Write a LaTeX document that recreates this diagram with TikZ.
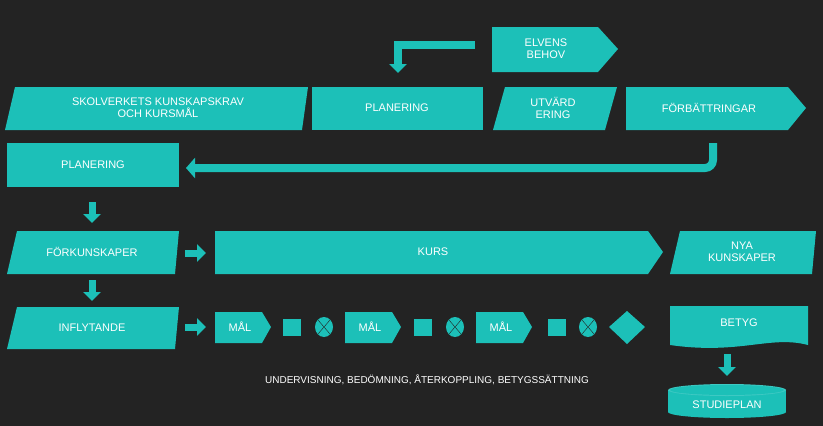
\documentclass[tikz,border=0pt]{standalone}
\usepackage{fontspec}
\setmainfont{Liberation Sans}
\usetikzlibrary{arrows.meta,shapes.geometric}
\definecolor{bg}{HTML}{232323}
\definecolor{tl}{HTML}{1CC0B8}
\tikzset{
 shp/.style={fill=tl,draw=none},
 lbl/.style={text=white,font=\fontsize{11}{12}\selectfont,align=center,inner sep=0pt},
 blk/.style={draw=tl,line width=7pt,-{Triangle[width=17pt,length=9pt]}},
 bigblk/.style={draw=tl,line width=8pt,-{Triangle[width=20pt,length=9pt]},rounded corners=8pt},
}
\begin{document}
\begin{tikzpicture}[x=1pt,y=-1pt]
\fill[bg] (0,0) rectangle (823,426);
\useasboundingbox (0,0) rectangle (823,426);
% row 1
\fill[shp] (492,27)--(598,27)--(618,49)--(598,72)--(492,72)--cycle;
\node[lbl] (elv) at (546,49) {ELVENS\\BEHOV};
\fill[shp] (5,130)--(15,87)--(308,87)--(302,130)--cycle;
\node[lbl] (sk) at (158,108) {SKOLVERKETS KUNSKAPSKRAV\\OCH KURSMÅL};
\fill[shp] (312,87) rectangle (483,130);
\node[lbl] (pl1) at (397,108) {PLANERING};
\fill[shp] (493,130)--(505,87)--(617,87)--(605,130)--cycle;
\node[lbl] (utv) at (553,108) {UTVÄRD\\ERING};
\fill[shp] (626,87)--(788,87)--(806,108)--(788,130)--(626,130)--cycle;
\node[lbl] (forb) at (709,108) {FÖRBÄTTRINGAR};
\coordinate (a1) at (475,45);
\coordinate (a2) at (398,73);
\draw[blk,line width=8pt] (a1) -| (a2);
% planering 2
\fill[shp] (7,143) rectangle (179,187);
\node[lbl] (pl2) at (93,165) {PLANERING};
\coordinate (b1) at (713,143);
\coordinate (b2) at (186,168);
\draw[bigblk] (b1) |- (b2);
\coordinate (c1) at (92,202);
\coordinate (c2) at (92,223);
\draw[blk] (c1) -- (c2);
% row 3
\fill[shp] (7,274)--(17,231)--(179,231)--(175,274)--cycle;
\node[lbl] (fk) at (92,252) {FÖRKUNSKAPER};
\coordinate (d1) at (185,253);
\coordinate (d2) at (206,253);
\draw[blk] (d1) -- (d2);
\fill[shp] (215,231)--(648,231)--(663,252)--(648,274)--(215,274)--cycle;
\node[lbl] (kurs) at (433,252) {KURS};
\fill[shp] (670,274)--(680,231)--(816,231)--(812,274)--cycle;
\node[lbl] (nya) at (742,252) {NYA\\KUNSKAPER};
\coordinate (e1) at (92,280);
\coordinate (e2) at (92,301);
\draw[blk] (e1) -- (e2);
% row 4
\fill[shp] (7,349)--(17,307)--(179,307)--(175,349)--cycle;
\node[lbl] (inf) at (92,328) {INFLYTANDE};
\coordinate (f1) at (185,327);
\coordinate (f2) at (206,327);
\draw[blk] (f1) -- (f2);
\foreach \x/\n in {215/m1,345/m2,476/m3}{
  \fill[shp] (\x,312)--(\x+47,312)--(\x+56,327)--(\x+47,343)--(\x,343)--cycle;
  \node[lbl] (\n) at (\x+25,327) {MÅL};
}
\foreach \x/\c in {283/324,414/455,548/588}{
  \fill[shp] (\x,319) rectangle (\x+18,336);
  \fill[shp] (\c,327) ellipse (9 and 10);
  \draw[bg,line width=0.4pt] (\c-6,320)--(\c+6,334) (\c-6,334)--(\c+6,320);
}
\fill[shp] (627,311)--(645,327)--(627,344)--(609,327)--cycle;
\fill[shp] (670,306)--(808,306)--(808,345) .. controls (770,335) and (740,355) .. (670,345)--cycle;
\node[lbl] (bet) at (739,323) {BETYG};
\coordinate (g1) at (727,354);
\coordinate (g2) at (727,376);
\draw[blk] (g1) -- (g2);
\fill[shp] (668,390) rectangle (786,412);
\fill[shp] (727,412) ellipse (59 and 6);
\fill[tl!85!white] (727,390) ellipse (59 and 6);
\fill[shp] (727,390) ellipse (57 and 5);
\node[lbl] (stp) at (727,405) {STUDIEPLAN};
\node[lbl,font=\fontsize{10}{11}\selectfont] (und) at (427,380) {UNDERVISNING, BEDÖMNING, ÅTERKOPPLING, BETYGSSÄTTNING};
\end{tikzpicture}
\end{document}
